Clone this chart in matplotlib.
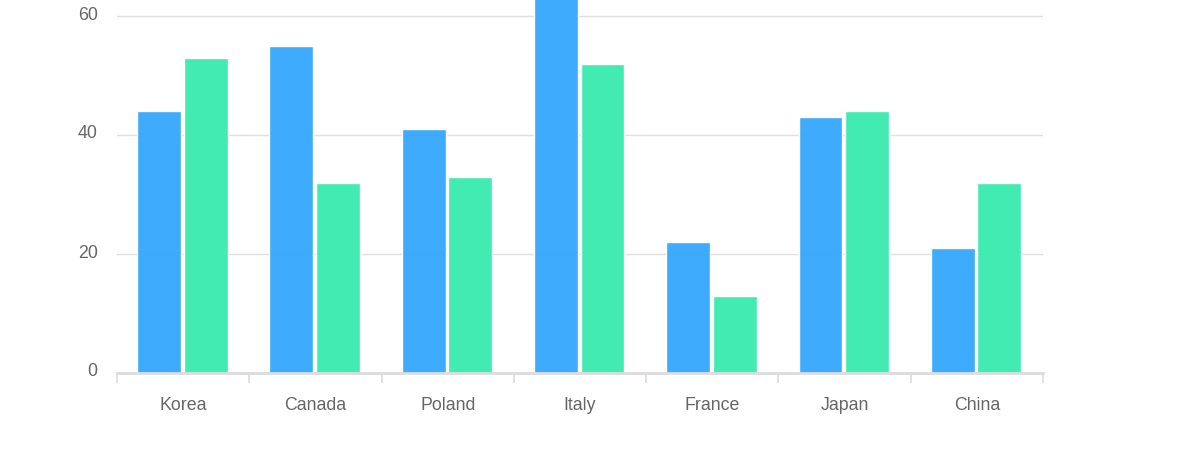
import matplotlib
matplotlib.use("Agg")
import matplotlib.pyplot as plt
import matplotlib.transforms as mtransforms
import numpy as np

categories = ["Korea", "Canada", "Poland", "Italy", "France", "Japan", "China"]
series_a = [44, 55, 41, 70, 22, 43, 21]
series_b = [53, 32, 33, 52, 13, 44, 32]
y_ticks = [0, 20, 40, 60]

plt.rcParams['font.family'] = ['Liberation Sans', 'DejaVu Sans']

W, H = 1189, 455
fig = plt.figure(figsize=(W / 100, H / 100), dpi=100)
# axes spans pixel x 117..1043, y 373 (value 0) .. -103 (value 80)
left = 117 / W
right = 1043 / W
bottom = (H - 373) / H
top = (H + 103) / H
ax = fig.add_axes([left, bottom, right - left, top - bottom])

x = np.arange(len(categories))
bw = 0.332
off = 0.176
shift = -0.006
ax.bar(x - off + shift, series_a, width=bw, color="#3ba9fc", alpha=0.98,
       edgecolor="white", linewidth=1.0, zorder=3)
ax.bar(x + off + shift, series_b, width=bw, color="#3eebb1", alpha=0.98,
       edgecolor="white", linewidth=1.0, zorder=3)

ax.set_xlim(-0.5, len(categories) - 0.5)
ax.set_ylim(0, 80)
ax.set_yticks(y_ticks)
ax.set_yticklabels([str(v) for v in y_ticks])
ax.yaxis.grid(True, color="#e0e0e0", linewidth=1.0, zorder=0)
ax.set_axisbelow(True)

ax.set_xticks(np.arange(-0.5, len(categories), 1.0), minor=False)
ax.set_xticklabels([])
ax.set_xticks(x, minor=True)
ax.set_xticklabels(categories, minor=True)
ax.tick_params(axis='x', which='major', length=7, width=1.2, color="#dcdcdc", direction='out')
ax.tick_params(axis='x', which='minor', length=0, pad=17.5, labelsize=12.8, labelcolor="#666666")
ax.tick_params(axis='y', length=0, pad=14, labelsize=12.8, labelcolor="#666666")

up = mtransforms.ScaledTranslation(0, 3 / 100, fig.dpi_scale_trans)
for lab in ax.get_yticklabels():
    lab.set_transform(lab.get_transform() + up)

for s in ["top", "right", "left"]:
    ax.spines[s].set_visible(False)
ax.spines["bottom"].set_color("#dcdcdc")
ax.spines["bottom"].set_linewidth(2)
ax.spines["bottom"].set_zorder(4)

fig.savefig("out.png", dpi=100)
